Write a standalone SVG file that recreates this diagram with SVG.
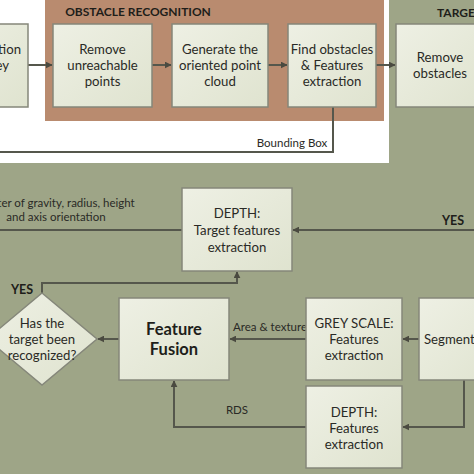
<svg xmlns="http://www.w3.org/2000/svg" width="474" height="474" viewBox="0 0 474 474">
<defs>
<linearGradient id="boxg" x1="0" y1="0" x2="1" y2="1">
<stop offset="0" stop-color="#eef0e4"/>
<stop offset="1" stop-color="#dfe3cf"/>
</linearGradient>
<marker id="ah" viewBox="0 0 10 10" refX="9" refY="5" markerWidth="7" markerHeight="7" markerUnits="userSpaceOnUse" orient="auto">
<path d="M0,0 L10,5 L0,10 z" fill="#4a4a40"/>
</marker>
</defs>
<style>
.box{fill:url(#boxg);stroke:#85877a;stroke-width:1.5}
.t{font-family:Lato,"Open Sans","Liberation Sans",sans-serif;font-size:13.2px;fill:#2a2a26;text-anchor:middle}
.s{font-family:Lato,"Open Sans","Liberation Sans",sans-serif;font-size:11.5px;fill:#2a2a26;text-anchor:middle}
.b{font-family:Lato,"Open Sans","Liberation Sans",sans-serif;font-weight:bold;fill:#1e1e1a;text-anchor:middle}
.c{fill:none;stroke:#55574c;stroke-width:2}
</style>
<rect x="0" y="0" width="474" height="474" fill="#9ea587"/>
<rect x="0" y="0" width="389" height="163" fill="#ffffff"/>
<rect x="45" y="0" width="339" height="121" fill="#b98b6f"/>
<text class="b" x="138" y="16" font-size="12">OBSTACLE RECOGNITION</text>
<text class="b" x="437" y="17" font-size="12" style="text-anchor:start">TARGET RECOGNITION</text>

<g id="connectors">
<path class="c" d="M28,65 H52" marker-end="url(#ah)"/>
<path class="c" d="M152,65 H171" marker-end="url(#ah)"/>
<path class="c" d="M268,65 H287" marker-end="url(#ah)"/>
<path class="c" d="M376,65 H395" marker-end="url(#ah)"/>
<path class="c" d="M333,107 V152 H0"/>
<path class="c" d="M182,230 H0"/>
<path class="c" d="M474,230 H293" marker-end="url(#ah)"/>
<path class="c" d="M42,293 V283 H237 V272" marker-end="url(#ah)"/>
<path class="c" d="M119,339 H98" marker-end="url(#ah)"/>
<path class="c" d="M306,339 H230" marker-end="url(#ah)"/>
<path class="c" d="M306,427 H174 V381" marker-end="url(#ah)"/>
<path class="c" d="M419,339 H403" marker-end="url(#ah)"/>
<path class="c" d="M464,380 V427 H403" marker-end="url(#ah)"/>
<text class="s" x="292" y="147">Bounding Box</text>
<text class="s" x="56" y="207">Center of gravity, radius, height</text>
<text class="s" x="56" y="221">and axis orientation</text>
<text class="b" x="453" y="225" font-size="12.5">YES</text>
<text class="b" x="22" y="294" font-size="12.5">YES</text>
<text class="s" x="270" y="331">Area &amp; texture</text>
<text class="s" x="237" y="414">RDS</text>
</g>

<g id="node-left">
<rect class="box" x="-60" y="24" width="88" height="83"/>
<text class="t" x="21" y="54" style="text-anchor:end">ation</text>
<text class="t" x="9" y="70" style="text-anchor:end">ey</text>
</g>
<g id="node-remove-unreachable">
<rect class="box" x="53" y="24" width="99" height="83"/>
<text class="t" x="102.5" y="54">Remove</text>
<text class="t" x="102.5" y="70">unreachable</text>
<text class="t" x="102.5" y="86">points</text>
</g>
<g id="node-generate">
<rect class="box" x="172" y="24" width="96" height="83"/>
<text class="t" x="220" y="54">Generate the</text>
<text class="t" x="220" y="70">oriented point</text>
<text class="t" x="220" y="86">cloud</text>
</g>
<g id="node-find">
<rect class="box" x="288" y="24" width="88" height="83"/>
<text class="t" x="332" y="54">Find obstacles</text>
<text class="t" x="332" y="70">&amp; Features</text>
<text class="t" x="332" y="86">extraction</text>
</g>
<g id="node-remove-obstacles">
<rect class="box" x="396" y="24" width="88" height="83"/>
<text class="t" x="440" y="62">Remove</text>
<text class="t" x="440" y="78">obstacles</text>
</g>
<g id="node-depth-target">
<rect class="box" x="182" y="188" width="110" height="83"/>
<text class="t" x="237" y="218">DEPTH:</text>
<text class="t" x="237" y="235">Target features</text>
<text class="t" x="237" y="252">extraction</text>
</g>
<g id="node-decision">
<polygon points="42,293 97,339 42,385 -13,339" fill="url(#boxg)" stroke="#85877a" stroke-width="1.5"/>
<text class="t" x="42" y="328">Has the</text>
<text class="t" x="42" y="344">target been</text>
<text class="t" x="42" y="360">recognized?</text>
</g>
<g id="node-fusion">
<rect class="box" x="119" y="298" width="110" height="82"/>
<text class="b" x="174" y="335" font-size="16.5">Feature</text>
<text class="b" x="174" y="355" font-size="16.5">Fusion</text>
</g>
<g id="node-grey">
<rect class="box" x="306" y="298" width="96" height="82"/>
<text class="t" x="354" y="328">GREY SCALE:</text>
<text class="t" x="354" y="344">Features</text>
<text class="t" x="354" y="360">extraction</text>
</g>
<g id="node-depth-features">
<rect class="box" x="306" y="386" width="96" height="82"/>
<text class="t" x="354" y="417">DEPTH:</text>
<text class="t" x="354" y="433">Features</text>
<text class="t" x="354" y="449">extraction</text>
</g>
<g id="node-segmentation">
<rect class="box" x="419" y="298" width="90" height="82"/>
<text class="t" x="424" y="344" style="text-anchor:start">Segmentation</text>
</g>
</svg>
